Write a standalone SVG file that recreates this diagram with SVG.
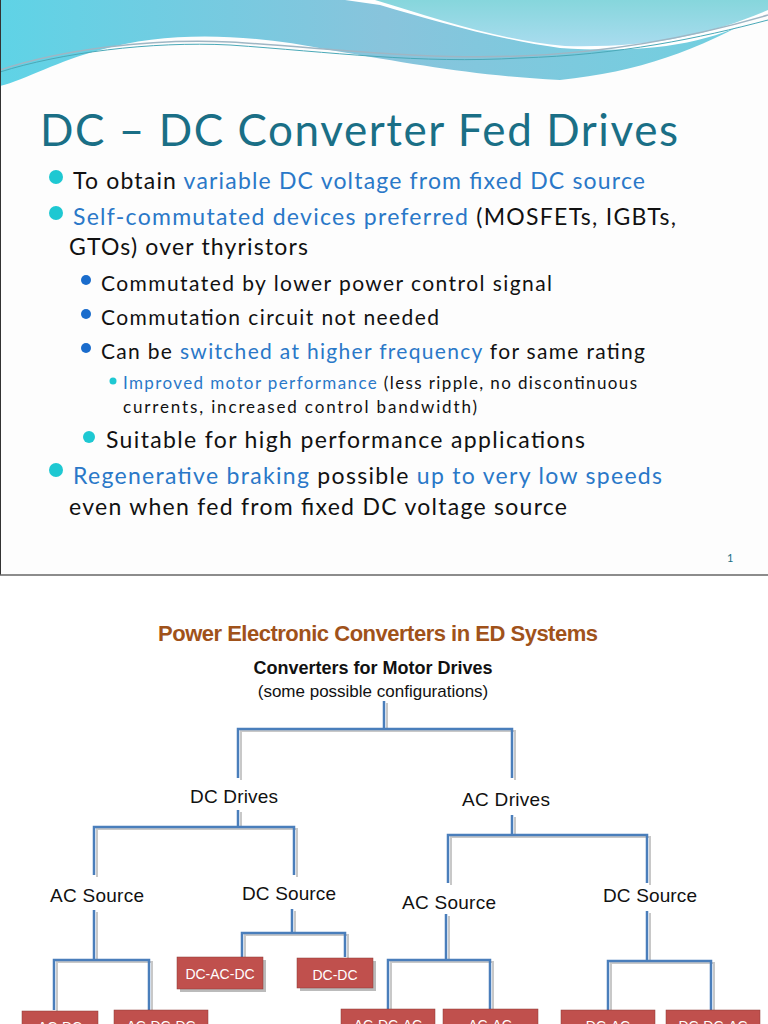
<svg xmlns="http://www.w3.org/2000/svg" width="768" height="1024" viewBox="0 0 768 1024">
<defs>
<linearGradient id="g1" x1="0" y1="0" x2="1" y2="0"><stop offset="0" stop-color="#5fd3e6"/><stop offset="0.5" stop-color="#88c4dc"/><stop offset="1" stop-color="#6fd0e0"/></linearGradient>
<linearGradient id="g2" x1="0" y1="0" x2="0" y2="1"><stop offset="0" stop-color="#86d6dc"/><stop offset="1" stop-color="#a9dcef"/></linearGradient>
<style>
.s{font-family:Lato,"Open Sans",sans-serif;fill:#111}
.b{fill:#2a78c8}
.t{font-family:"Liberation Sans",Arial,sans-serif;fill:#111;font-size:19px;text-anchor:middle}
.ln{fill:none;stroke:#4a7ebb;stroke-width:2.5}
.sh{fill:none;stroke:#c8c8c8;stroke-width:2}
.box{fill:#c0504d;stroke:#8c3836;stroke-width:0.5}
.bt{font-family:"Liberation Sans",Arial,sans-serif;fill:#fff;font-size:14px;text-anchor:middle}
</style>
</defs>
<rect width="768" height="1024" fill="#fff"/>
<g id="slide">
<rect x="0" y="0" width="768" height="575" fill="#fdfdfd"/>
<path d="M0,0 H768 V10 C700,50 640,72 560,80 C470,75 420,65 330,50 C250,34 170,30 100,50 C60,60 25,80 0,86 Z" fill="url(#g1)"/>
<path d="M345,0 H768 V12 C720,40 660,55 560,48 C500,40 430,20 380,5 Z" fill="#fff"/>
<path d="M375,0 H768 V10 C710,35 650,48 565,46 C500,40 440,20 375,0 Z" fill="url(#g2)"/>
<path d="M0,70 C60,50 150,38 230,42 C330,48 420,60 520,56 C620,52 700,35 768,15" fill="none" stroke="#9fb6c4" stroke-width="1.5"/>
<path d="M0,72 C60,53 150,41 230,45 C330,52 420,64 520,58 C620,55 700,38 768,20" fill="none" stroke="#4aa9b8" stroke-width="1"/>
<line x1="0.5" y1="0" x2="0.5" y2="575" stroke="#333" stroke-width="1"/>
<line x1="0" y1="575" x2="768" y2="575" stroke="#666" stroke-width="1.5"/>
<text x="40" y="146" font-family="Lato,'Open Sans',sans-serif" font-size="44" fill="#1a6f86" textLength="638">DC – DC Converter Fed Drives</text>
<circle cx="56" cy="177" r="7" fill="#1ec8d2"/>
<text class="s" x="73" y="189" font-size="23" textLength="572">To obtain <tspan class="b">variable DC voltage from fixed DC source</tspan></text>
<circle cx="56" cy="213" r="7" fill="#1ec8d2"/>
<text class="s" x="73" y="225" font-size="23" textLength="603"><tspan class="b">Self-commutated devices preferred</tspan> (MOSFETs, IGBTs,</text>
<text class="s" x="69" y="255" font-size="23" textLength="239">GTOs) over thyristors</text>
<circle cx="86" cy="280" r="5" fill="#1a6ccc"/>
<text class="s" x="101" y="291" font-size="21" textLength="451">Commutated by lower power control signal</text>
<circle cx="86" cy="314" r="5" fill="#1a6ccc"/>
<text class="s" x="101" y="325" font-size="21" textLength="338">Commutation circuit not needed</text>
<circle cx="86" cy="348" r="5" fill="#1a6ccc"/>
<text class="s" x="101" y="359" font-size="21" textLength="544">Can be <tspan class="b">switched at higher frequency</tspan> for same rating</text>
<circle cx="113" cy="381" r="3.5" fill="#1ec8d2"/>
<text class="s" x="123" y="389" font-size="17" textLength="514"><tspan class="b">Improved motor performance</tspan> (less ripple, no discontinuous</text>
<text class="s" x="123" y="413" font-size="17" textLength="354">currents, increased control bandwidth)</text>
<circle cx="89" cy="437" r="6" fill="#1ec8d2"/>
<text class="s" x="106" y="448" font-size="23" textLength="479">Suitable for high performance applications</text>
<circle cx="56" cy="470" r="7" fill="#1ec8d2"/>
<text class="s" x="73" y="484" font-size="23" textLength="589"><tspan class="b">Regenerative braking</tspan> possible <tspan class="b">up to very low speeds</tspan></text>
<text class="s" x="69" y="515" font-size="23" textLength="498">even when fed from fixed DC voltage source</text>
<text x="727" y="562" font-family="Lato,sans-serif" font-size="11" fill="#1a6f86">1</text>
</g>
<text x="378" y="641" font-family="'Liberation Sans',Arial,sans-serif" font-weight="bold" font-size="22" fill="#a0521a" text-anchor="middle" textLength="440">Power Electronic Converters in ED Systems</text>
<text x="373" y="674" font-family="'Liberation Sans',Arial,sans-serif" font-weight="bold" font-size="18" fill="#111" text-anchor="middle">Converters for Motor Drives</text>
<text x="373" y="697" font-family="'Liberation Sans',Arial,sans-serif" font-size="17" fill="#111" text-anchor="middle">(some possible configurations)</text>
<g id="connectors">
<g transform="translate(3,2)">
<path class="sh" d="M384,701 V729 M238,778 V729 H512 V778"/>
<path class="sh" d="M238,810 V827 M94,875 V827 H294 V875"/>
<path class="sh" d="M512,815 V835 M448,883 V835 H647 V883"/>
<path class="sh" d="M94,910 V960 M54,1010 V960 H149 V1010"/>
<path class="sh" d="M292,909 V933 M242,957 V933 H345 V957"/>
<path class="sh" d="M446,914 V960 M388,1010 V960 H490 V1010"/>
<path class="sh" d="M647,911 V961 M608,1012 V961 H711 V1012"/>
</g>
<path class="ln" d="M384,701 V729 M238,778 V729 H512 V778"/>
<path class="ln" d="M238,810 V827 M94,875 V827 H294 V875"/>
<path class="ln" d="M512,815 V835 M448,883 V835 H647 V883"/>
<path class="ln" d="M94,910 V960 M54,1010 V960 H149 V1010"/>
<path class="ln" d="M292,909 V933 M242,957 V933 H345 V957"/>
<path class="ln" d="M446,914 V960 M388,1010 V960 H490 V1010"/>
<path class="ln" d="M647,911 V961 M608,1012 V961 H711 V1012"/>
</g>
<g id="dc-drives"><text class="t" x="234" y="803" textLength="88">DC Drives</text></g>
<g id="ac-drives"><text class="t" x="506" y="806" textLength="88">AC Drives</text></g>
<g id="dc-ac-source"><text class="t" x="97" y="902" textLength="94">AC Source</text></g>
<g id="dc-dc-source"><text class="t" x="289" y="900" textLength="94">DC Source</text></g>
<g id="ac-ac-source"><text class="t" x="449" y="909" textLength="94">AC Source</text></g>
<g id="ac-dc-source"><text class="t" x="650" y="902" textLength="94">DC Source</text></g>
<g id="dcacdc"><rect x="180" y="960" width="86" height="32" fill="#bbb"/><rect class="box" x="177" y="957" width="86" height="32"/><text class="bt" x="220" y="979" font-size="15">DC-AC-DC</text></g>
<g id="dcdc"><rect x="300" y="961" width="76" height="30" fill="#bbb"/><rect class="box" x="297" y="958" width="76" height="30"/><text class="bt" x="335" y="980" font-size="15">DC-DC</text></g>
<g id="acdc"><rect class="box" x="22" y="1011" width="76" height="30"/><text class="bt" x="60" y="1032">AC-DC</text></g>
<g id="acdcdc"><rect class="box" x="114" y="1010" width="94" height="30"/><text class="bt" x="161" y="1031">AC-DC-DC</text></g>
<g id="acdcac"><rect class="box" x="341" y="1009" width="94" height="30"/><text class="bt" x="388" y="1030">AC-DC-AC</text></g>
<g id="acac"><rect class="box" x="443" y="1009" width="95" height="30"/><text class="bt" x="490" y="1030">AC-AC</text></g>
<g id="dcac"><rect class="box" x="561" y="1010" width="94" height="30"/><text class="bt" x="608" y="1031">DC-AC</text></g>
<g id="dcdcac"><rect class="box" x="666" y="1010" width="94" height="30"/><text class="bt" x="713" y="1031">DC-DC-AC</text></g>
</svg>
